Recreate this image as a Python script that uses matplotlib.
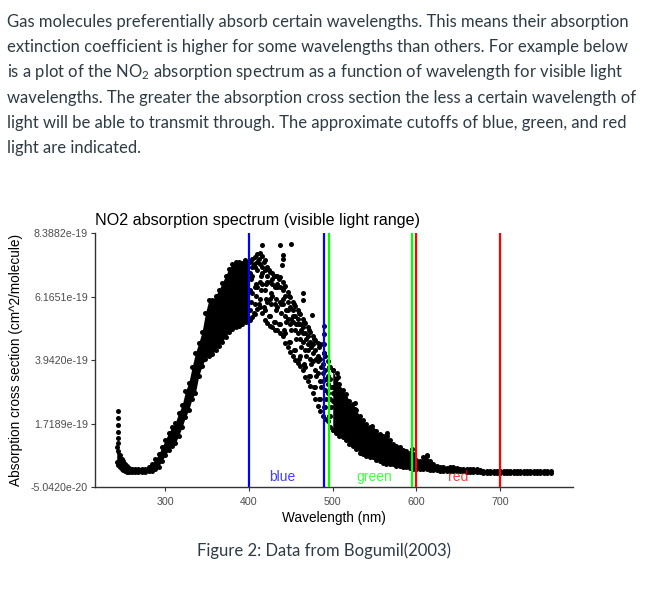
import numpy as np
import matplotlib
matplotlib.use("Agg")
import matplotlib.pyplot as plt

plt.rcParams["mathtext.fontset"] = "custom"
plt.rcParams["mathtext.rm"] = "Lato"
plt.rcParams["mathtext.it"] = "Lato:italic"

# ---------------- data (cross section in units of 1e-19 cm^2/molecule) ----------------
UNIT = 1e-19

# dense part of the spectrum, short wavelengths (lower / upper edge of the point cloud)
band_a_wl = [242, 244, 246, 248, 250, 252, 254, 257, 260, 264, 268, 272, 276, 280, 284, 288,
             292, 296, 300, 304, 308, 312, 316, 320, 324, 328, 332, 336, 340, 344, 348, 352,
             356, 360, 364, 368, 372, 376, 380, 384, 388, 392, 396, 400]
band_a_lo = [0.38, 0.28, 0.20, 0.14, 0.10, 0.07, 0.04, 0.02, 0.02, 0.02, 0.02, 0.02, 0.03, 0.05,
             0.08, 0.12, 0.22, 0.42, 0.62, 0.80, 0.95, 1.05, 1.30, 1.60, 1.95, 2.20, 2.60, 2.80,
             3.40, 3.75, 4.00, 4.10, 4.15, 4.30, 4.45, 4.60, 4.75, 4.95, 5.05, 5.10, 5.15, 5.20,
             5.28, 5.34]
band_a_hi = [0.92, 0.78, 0.62, 0.50, 0.40, 0.32, 0.25, 0.18, 0.14, 0.12, 0.12, 0.12, 0.15, 0.22,
             0.32, 0.47, 0.65, 0.90, 1.15, 1.40, 1.60, 1.76, 2.10, 2.36, 2.85, 3.15, 3.70, 4.20,
             4.55, 4.95, 5.60, 6.05, 6.05, 6.20, 6.40, 6.65, 6.90, 7.15, 7.30, 7.40, 7.38, 7.36,
             7.36, 7.40]

# dense part of the spectrum, long wavelengths
band_b_wl = [500, 504, 508, 512, 516, 520, 524, 528, 532, 536, 540, 544, 548, 552, 556, 560,
             564, 568, 572, 576, 580, 584, 588, 592, 596, 600, 604, 608, 612, 616, 620, 624,
             628, 632, 636, 640, 644, 648, 652, 656, 660, 664, 668, 672, 676, 680, 684, 688,
             692, 696, 700, 704, 708, 712, 716, 720, 724, 728, 732, 736, 740, 744, 748, 752,
             756, 761]
band_b_lo = [1.50, 1.40, 1.30, 1.25, 1.15, 1.00, 0.95, 0.85, 0.70, 0.65, 0.60, 0.55, 0.55, 0.45,
             0.40, 0.35, 0.30, 0.30, 0.30, 0.25, 0.25, 0.22, 0.20, 0.18, 0.15, 0.15, 0.12, 0.12,
             0.12, 0.10, 0.10, 0.10, 0.08, 0.08, 0.08, 0.08, 0.08, 0.06, 0.05, 0.05, 0.04, 0.04,
             0.04, 0.03, 0.02, 0.01, 0.00, 0.00, 0.00, 0.00, 0.00, 0.00, 0.00, 0.01, 0.00, 0.00,
             0.00, 0.00, 0.00, 0.00, 0.00, 0.00, 0.00, 0.00, 0.00, 0.00]
band_b_hi = [3.60, 3.30, 3.10, 2.90, 2.75, 2.50, 2.40, 2.20, 2.00, 1.85, 1.70, 1.60, 1.50, 1.45,
             1.35, 1.30, 1.30, 1.15, 1.00, 0.95, 0.90, 0.80, 0.75, 0.70, 0.65, 0.45, 0.40, 0.55,
             0.60, 0.40, 0.30, 0.25, 0.22, 0.20, 0.18, 0.22, 0.22, 0.18, 0.15, 0.12, 0.12, 0.14,
             0.14, 0.12, 0.10, 0.08, 0.07, 0.07, 0.06, 0.06, 0.06, 0.06, 0.07, 0.07, 0.06, 0.06,
             0.06, 0.06, 0.06, 0.06, 0.06, 0.06, 0.06, 0.06, 0.06, 0.06]

# scattered region around the absorption maximum (several points per wavelength)
noisy_wl = [401, 404, 407, 410, 413, 416, 419, 422, 425, 428, 431, 434, 437, 440, 443, 446, 449,
            452, 455, 458, 461, 464, 467, 470, 473, 476, 479, 482, 485, 488, 491, 494, 497, 500]
noisy_v1 = [5.35, 5.45, 5.55, 5.75, 5.80, 5.60, 5.35, 5.25, 5.15, 5.10, 5.00, 5.00, 4.90, 4.80,
            4.55, 4.40, 4.25, 4.10, 3.95, 3.85, 3.75, 3.60, 3.35, 3.20, 3.05, 2.80, 2.60, 2.35,
            2.15, 2.00, 1.90, 1.80, 1.60, 1.50]
noisy_v2 = [5.70, 6.30, 5.90, 6.50, 6.10, 6.60, 5.70, 6.00, 5.50, 6.20, 5.30, 5.80, 5.20, 5.90,
            4.90, 5.40, 4.60, 5.30, 4.30, 4.90, 4.10, 4.60, 3.70, 4.30, 3.40, 3.90, 3.00, 3.50,
            2.60, 3.20, 2.30, 2.80, 2.00, 2.50]
noisy_v3 = [6.40, 6.90, 6.50, 7.10, 6.70, 7.20, 6.40, 6.70, 6.10, 6.60, 5.90, 6.50, 6.00, 6.40,
            5.50, 6.00, 5.20, 5.70, 5.00, 5.40, 4.70, 5.10, 4.30, 4.80, 4.00, 4.50, 3.60, 4.10,
            3.20, 3.80, 2.90, 3.40, 2.60, 3.00]
noisy_v4 = [7.00, 7.20, 7.20, 7.40, 7.30, 7.00, 7.10, 6.90, 6.70, 6.80, 6.50, 6.60, 6.50, 6.10,
            6.20, 5.70, 5.80, 5.50, 5.50, 5.20, 5.20, 4.90, 4.90, 4.50, 4.60, 4.20, 4.30, 3.90,
            4.00, 3.50, 3.60, 3.10, 3.30, 2.80]
noisy_v5 = [7.40, 7.50, 7.55, 7.65, 7.70, 7.60, 7.45, 7.20, 7.05, 7.00, 6.90, 6.90, 6.85, 6.70,
            6.55, 6.35, 6.15, 6.00, 5.85, 5.70, 5.55, 5.40, 5.25, 5.10, 4.95, 4.80, 4.65, 4.55,
            4.50, 4.50, 4.10, 3.90, 3.70, 3.60]
noisy2_wl = [402.5, 405.5, 408.5, 411.5, 414.5, 417.5, 420.5, 423.5, 426.5, 429.5, 432.5, 435.5,
             438.5, 441.5, 444.5, 447.5, 450.5, 453.5, 456.5, 459.5, 462.5, 465.5, 468.5, 471.5,
             474.5, 477.5, 480.5, 483.5, 486.5, 489.5, 492.5, 495.5, 498.5]
noisy2_v1 = [6.00, 5.60, 6.20, 5.90, 6.40, 5.80, 6.10, 5.50, 5.90, 5.30, 5.70, 5.20, 5.60, 5.00,
             5.30, 4.60, 5.00, 4.30, 4.70, 4.00, 4.40, 3.80, 4.10, 3.40, 3.80, 3.00, 3.40, 2.60,
             3.00, 2.30, 2.60, 2.00, 2.30]
noisy2_v2 = [6.80, 7.30, 6.60, 7.50, 6.90, 7.40, 6.60, 7.10, 6.30, 6.90, 6.10, 6.80, 5.90, 6.50,
             5.70, 6.20, 5.40, 5.90, 5.20, 5.60, 5.00, 5.30, 4.70, 5.00, 4.40, 4.70, 4.00, 4.40,
             3.70, 4.20, 3.30, 3.70, 3.00]

# isolated points (start column, outliers, spikes)
extra_wl = [243, 243, 243, 243, 243, 243,
            395, 415, 437, 440, 440, 439, 450, 464, 464, 475, 490, 490, 490, 490,
            505, 506, 526, 526, 547, 565, 565, 595, 613]
extra_val = [1.04, 1.21, 1.44, 1.68, 1.91, 2.18,
             7.46, 7.98, 7.98, 7.63, 7.50, 7.28, 8.01, 6.30, 6.06, 5.53, 5.15, 4.85, 4.50, 4.20,
             3.50, 3.35, 2.45, 2.25, 1.65, 1.40, 1.30, 0.82, 0.62]

# approximate colour cutoffs (nm)
cutoff_wl = [400, 490, 495, 595, 600, 700]
cutoff_color = ["#0000FF", "#0000FF", "#00FF00", "#00FF00", "#FF0000", "#FF0000"]
label_text = ["blue", "green", "red"]
label_wl = [440, 550, 650]
label_color = ["#0000FF", "#00FF00", "#FF0000"]
label_y = -0.15

ytick_vals = [-0.50420, 1.7189, 3.9420, 6.1651, 8.3882]
ytick_labels = ["-5.0420e-20", "1.7189e-19", "3.9420e-19", "6.1651e-19", "8.3882e-19"]
xtick_vals = [300, 400, 500, 600, 700]

paragraph = [
    "Gas molecules preferentially absorb certain wavelengths. This means their absorption",
    "extinction coefficient is higher for some wavelengths than others. For example below",
    "is a plot of the NO$_2$ absorption spectrum as a function of wavelength for visible light",
    "wavelengths. The greater the absorption cross section the less a certain wavelength of",
    "light will be able to transmit through. The approximate cutoffs of blue, green, and red",
    "light are indicated.",
]
caption = "Figure 2: Data from Bogumil(2003)"

# ---------------- figure ----------------
W, H = 648, 589
fig = plt.figure(figsize=(W / 100, H / 100), dpi=100)
TXT = "#2d3b45"
for i, line in enumerate(paragraph):
    fig.text(7 / W, 1 - (27 + 25.2 * i) / H, line, family="Lato", fontsize=12.0,
             color=TXT, va="baseline", ha="left")
fig.text(324 / W, 1 - 556 / H, caption, family="Lato", fontsize=12.0, color=TXT,
         va="baseline", ha="center")

ax = fig.add_axes([95 / W, 1 - 487.3 / H, (573 - 95) / W, (487.3 - 233.3) / H])
CF = "Liberation Sans"
dot = dict(s=13, color="black", linewidths=0, zorder=2)

def u(v):
    return np.asarray(v) * UNIT

for wl, lo, hi in [(band_a_wl, band_a_lo, band_a_hi), (band_b_wl, band_b_lo, band_b_hi)]:
    ax.fill_between(wl, u(lo), u(hi), color="black", linewidth=0, zorder=2)
    ax.scatter(wl, u(lo), **dot)
    ax.scatter(wl, u(hi), **dot)
for v in [noisy_v1, noisy_v2, noisy_v3, noisy_v4, noisy_v5]:
    ax.scatter(noisy_wl, u(v), **dot)
for v in [noisy2_v1, noisy2_v2]:
    ax.scatter(noisy2_wl, u(v), **dot)
ax.scatter(extra_wl, u(extra_val), **dot)

for x, c in zip(cutoff_wl, cutoff_color):
    ax.axvline(x, color=c, linewidth=1.6, zorder=3)
for t, x, c in zip(label_text, label_wl, label_color):
    ax.text(x, label_y * UNIT, t, color=c, alpha=0.75, fontsize=10, family=CF,
            ha="center", va="center", zorder=4)

all_wl = band_a_wl + band_b_wl
span = max(all_wl) - min(all_wl)
ax.set_xlim(min(all_wl) - 0.05 * span, max(all_wl) + 0.05 * span)
ax.set_ylim(u(ytick_vals)[0], u(ytick_vals)[-1])
ax.set_yticks(u(ytick_vals))
ax.set_yticklabels(ytick_labels)
ax.set_xticks(xtick_vals)
for s in ["top", "right"]:
    ax.spines[s].set_visible(False)
for s in ["left", "bottom"]:
    ax.spines[s].set_color("#333333")
    ax.spines[s].set_linewidth(1.0)
ax.tick_params(axis="both", length=3, width=0.8, color="#333333", labelcolor="#4D4D4D",
               labelsize=7.7, pad=2)
ax.tick_params(axis="x", pad=4)
for lab in ax.get_xticklabels() + ax.get_yticklabels():
    lab.set_family(CF)
ax.set_xlabel("Wavelength (nm)", family=CF, fontsize=9.8, color="black", labelpad=3)
ax.set_ylabel("Absorption cross section (cm^2/molecule)", family=CF, fontsize=9.8,
              color="black", labelpad=6)
ax.set_title("NO2 absorption spectrum (visible light range)", family=CF, fontsize=11.6,
             loc="left", color="black", pad=6)

fig.savefig("out.png", dpi=100)
